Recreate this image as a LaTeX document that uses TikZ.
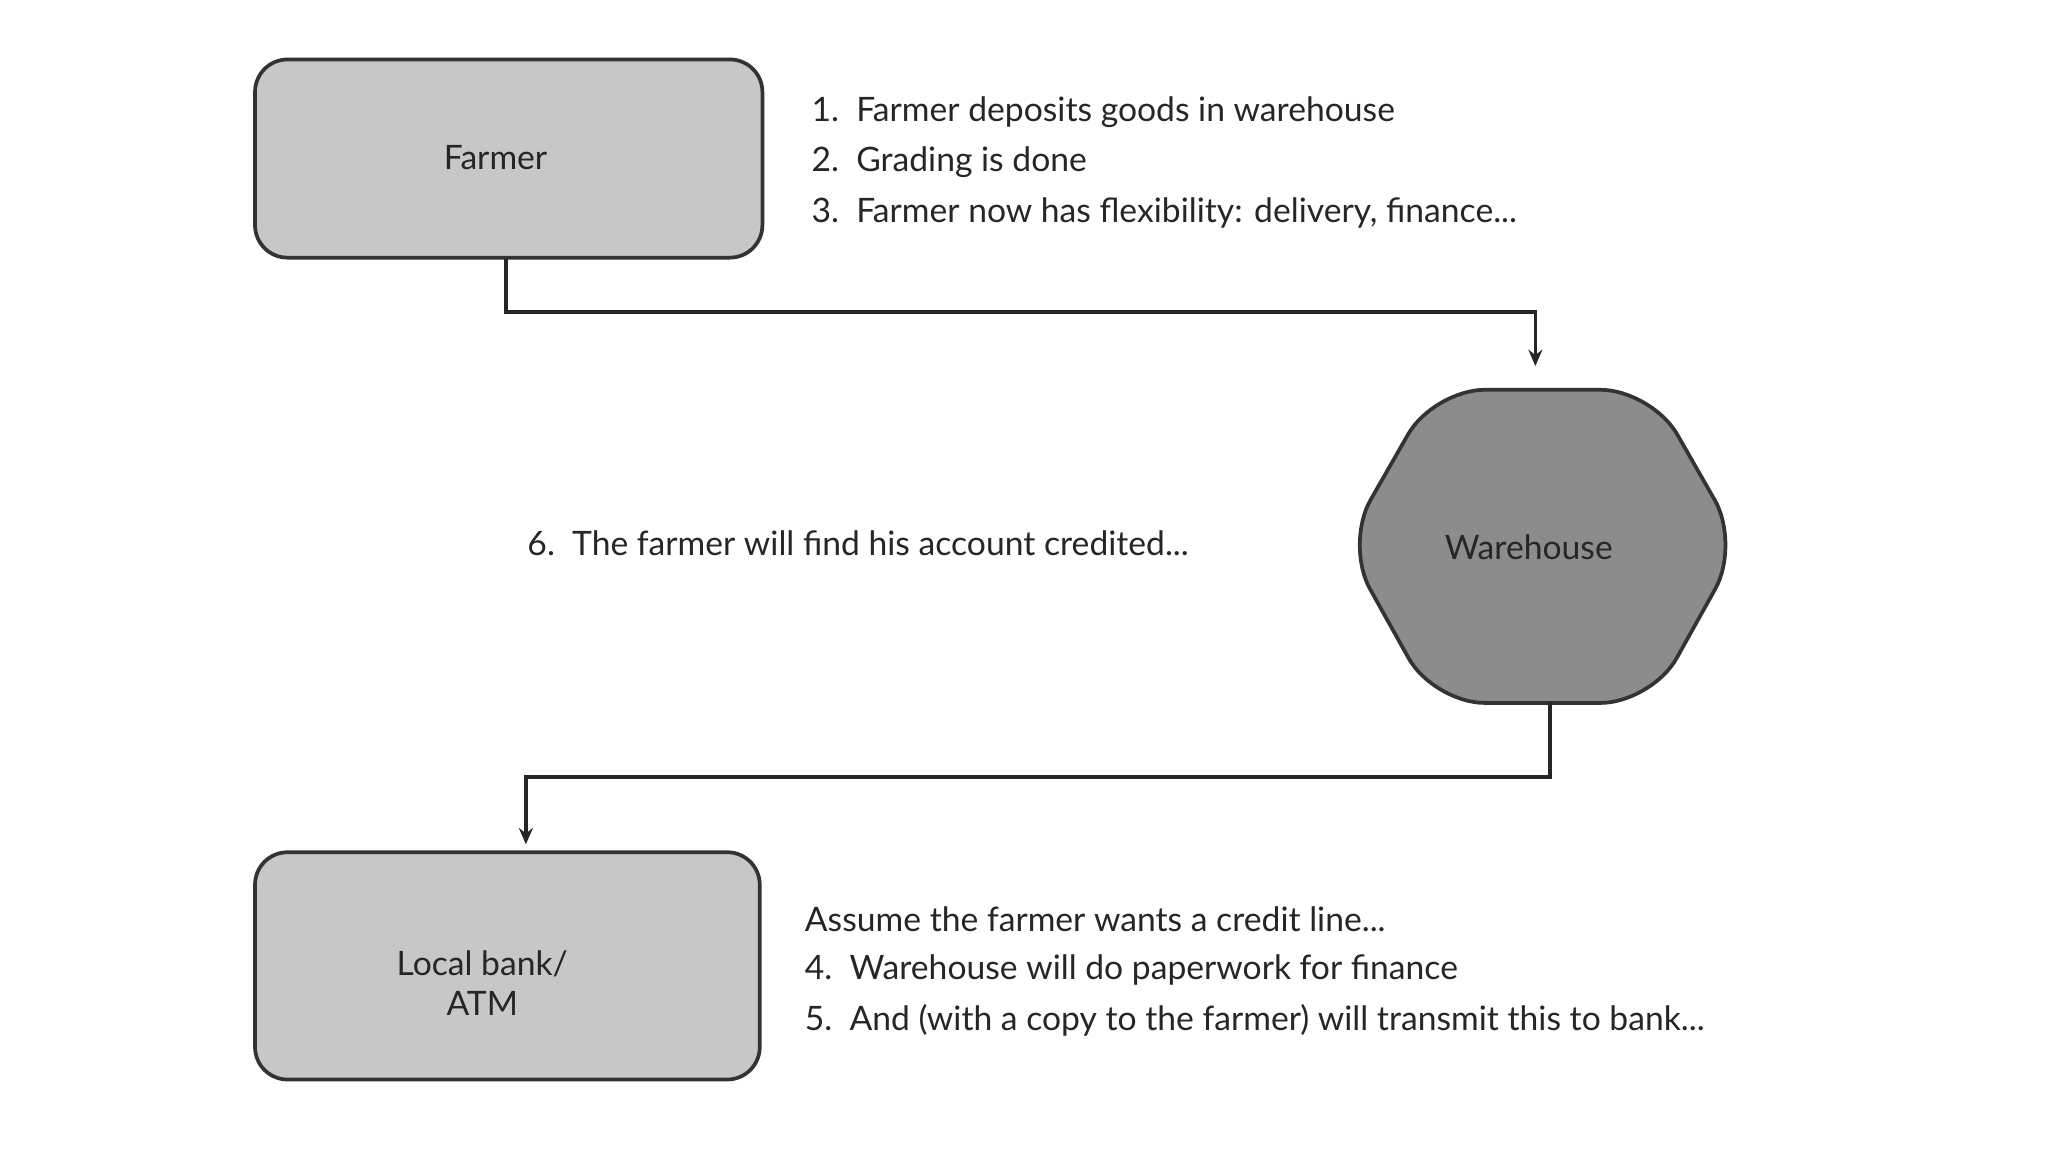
\documentclass[tikz,border=0pt]{standalone}
\usetikzlibrary{arrows.meta}
\usepackage{fontspec}
\setmainfont{Lato}
\begin{document}
\begin{tikzpicture}[x=0.02cm,y=-0.02cm,
  box/.style={draw=black!80,line width=1.6pt,fill=black!22,rounded corners=14pt},
  lbl/.style={font=\fontsize{14.5}{17}\selectfont,text=black!85},
  conn/.style={draw=black!85,line width=1.6pt,-{Stealth[length=7pt,width=6pt]}}]
\useasboundingbox (0,0) rectangle (1550,872);
\path[box] (193,45) rectangle (577,195);
\node[lbl] (farmer) at (375,119) {Farmer};
\path[box] (193,645) rectangle (575,817);
\node[lbl,align=center] (bank) at (365,744) {Local bank/\\ATM};
\path[box,fill=black!45,rounded corners=22pt] (1018,412) -- (1085,295) -- (1250,295) -- (1317,412) -- (1250,532) -- (1085,532) -- cycle;
\node[lbl] (wh) at (1157,414) {Warehouse};
\node[lbl,anchor=west] (t1) at (608,85) {1.\ \ Farmer deposits goods in warehouse};
\node[lbl,anchor=west] (t2) at (608,123) {2.\ \ Grading is done};
\node[lbl,anchor=west] (t3) at (608,161) {3.\ \ Farmer now has flexibility: delivery, finance...};
\node[lbl,anchor=west] (t6) at (393,411) {6.\ \ The farmer will find his account credited...};
\node[lbl,anchor=west] (t0) at (603,696) {Assume the farmer wants a credit line...};
\node[lbl,anchor=west] (t4) at (603,734) {4.\ \ Warehouse will do paperwork for finance};
\node[lbl,anchor=west] (t5) at (603,772) {5.\ \ And (with a copy to the farmer) will transmit this to bank...};
\coordinate (a1) at (383,196);
\coordinate (a2) at (1162,277);
\coordinate (b1) at (1173,532);
\coordinate (b2) at (398,639);
\draw[conn] (a1) -- (383,236) -- (1162,236) -- (a2);
\draw[conn] (b1) -- (1173,588) -- (398,588) -- (b2);
\end{tikzpicture}
\end{document}
